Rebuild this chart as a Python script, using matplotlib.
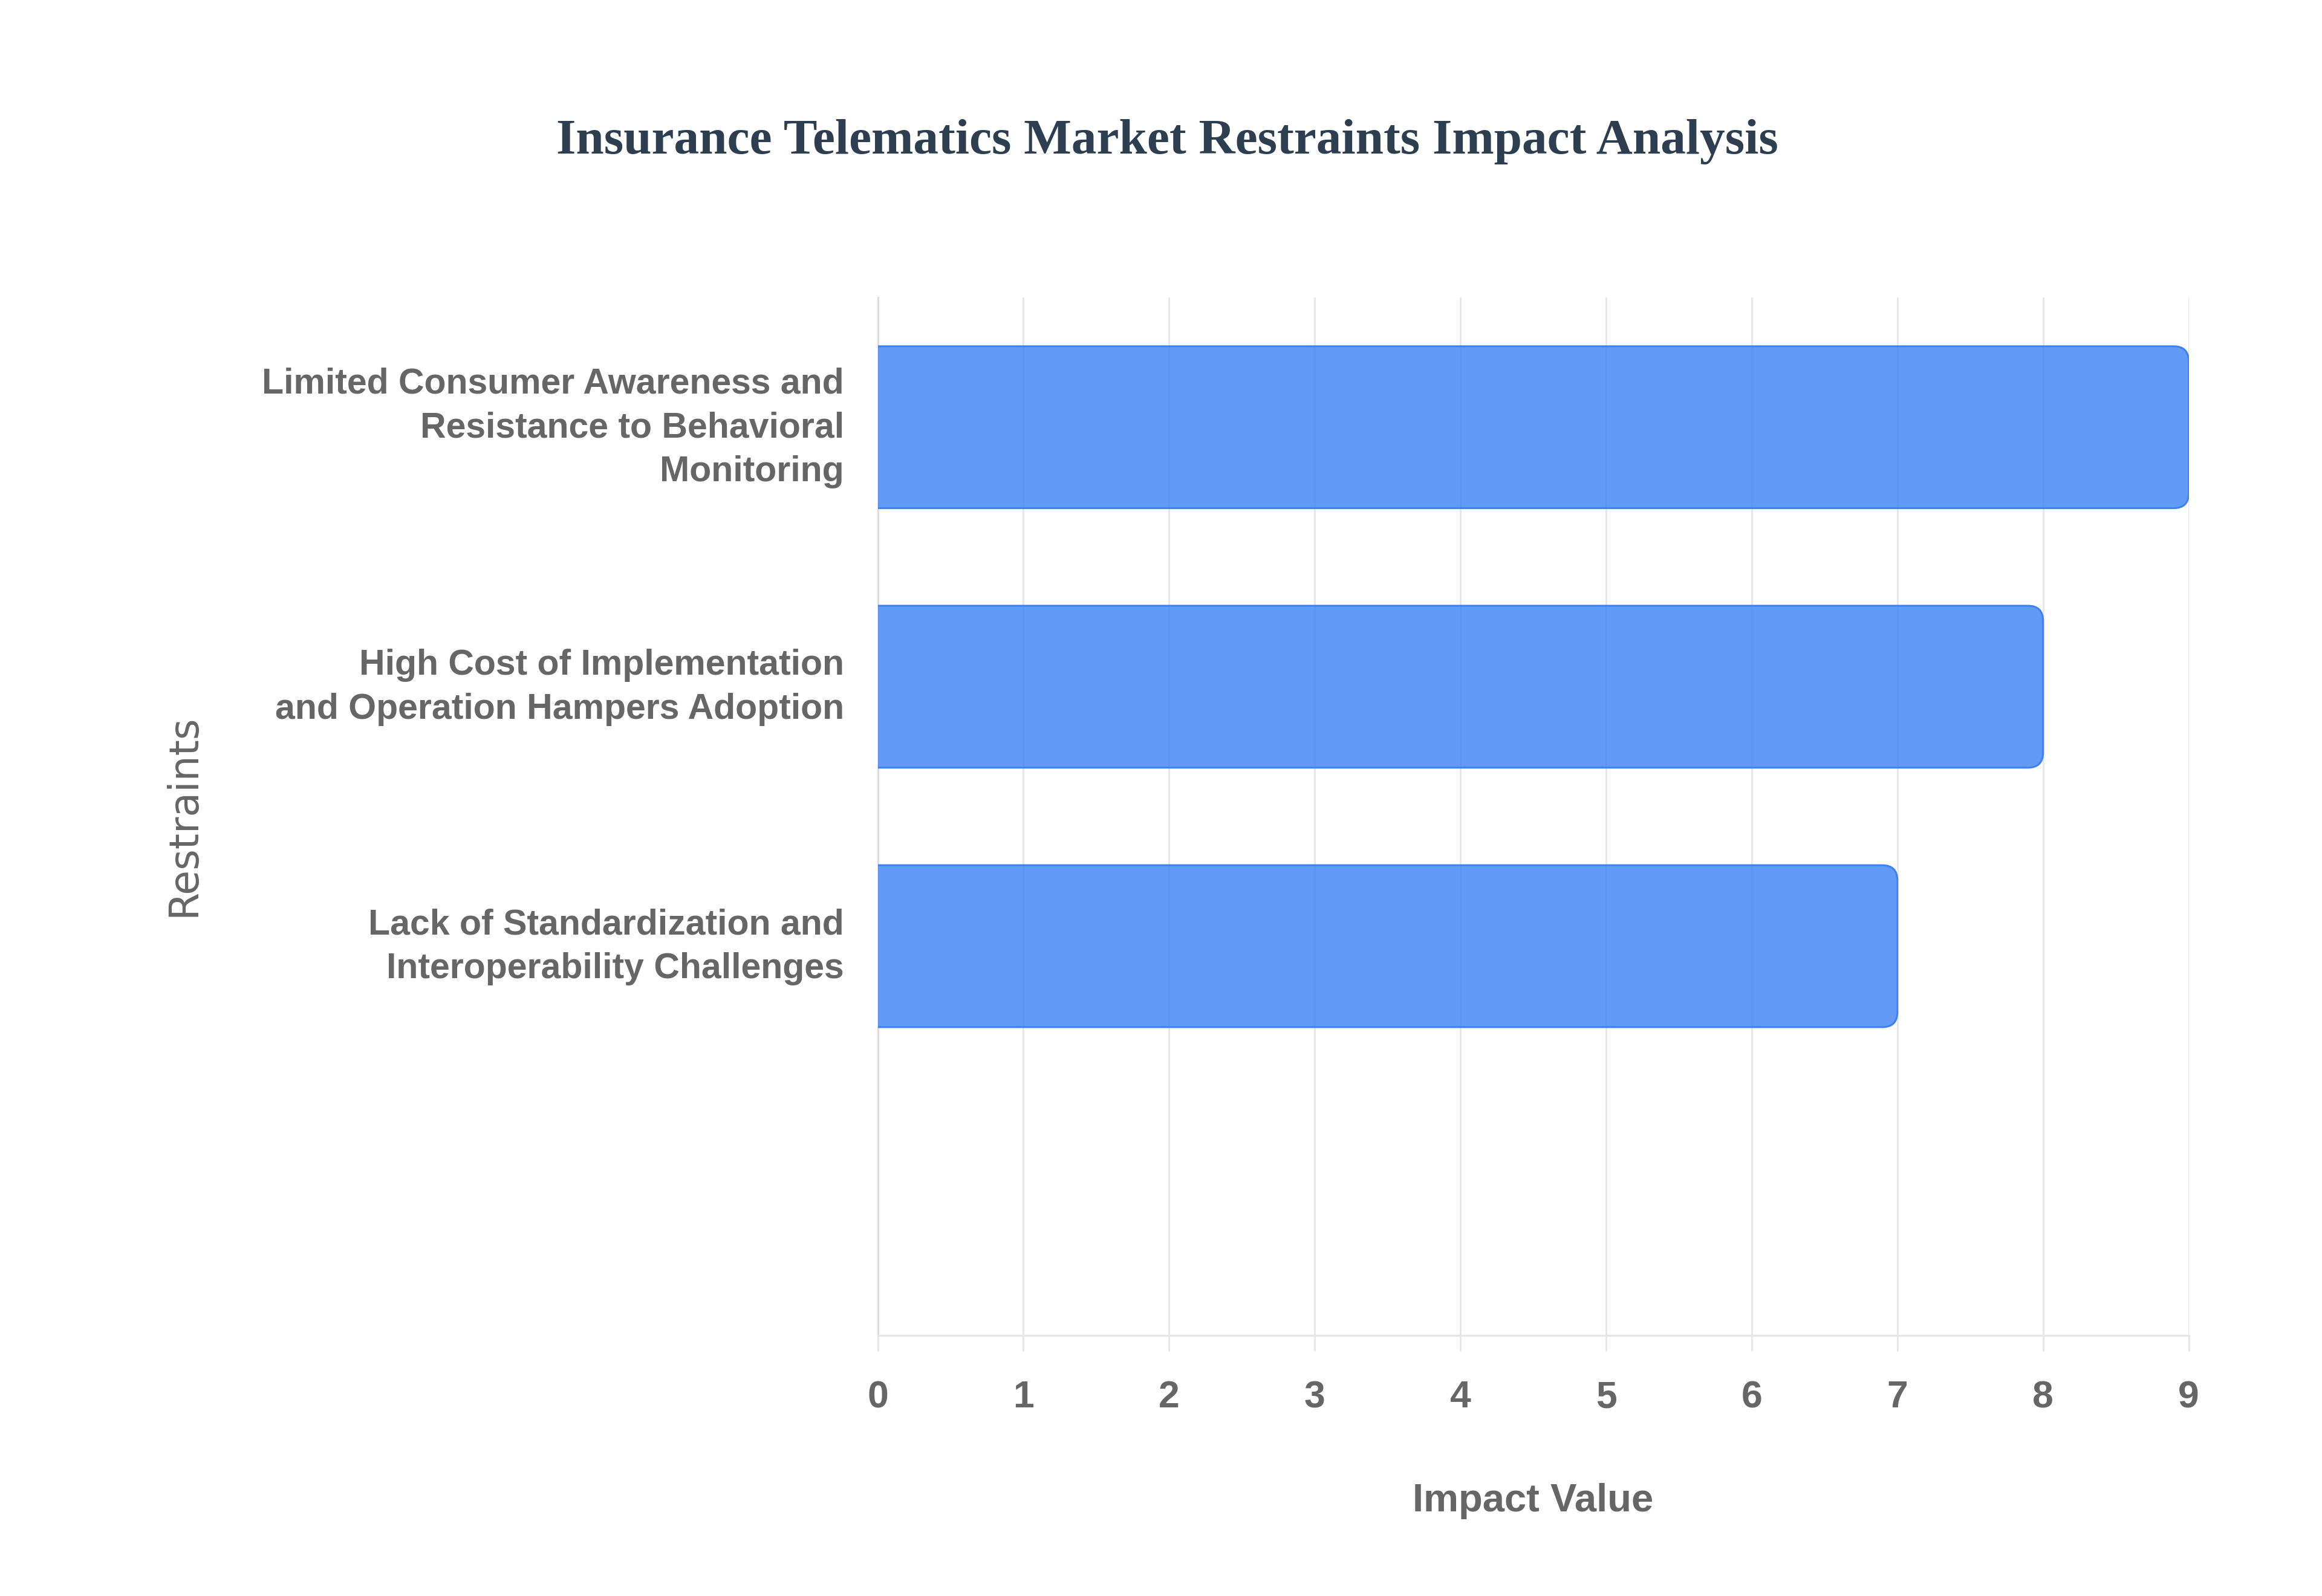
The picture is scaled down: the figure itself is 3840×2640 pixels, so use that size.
import matplotlib.pyplot as plt
from matplotlib.patches import FancyBboxPatch
from matplotlib.transforms import ScaledTranslation
import numpy as np

# --- data ---
restraints = [
    "Limited Consumer Awareness and\nResistance to Behavioral\nMonitoring",
    "High Cost of Implementation\nand Operation Hampers Adoption",
    "Lack of Standardization and\nInteroperability Challenges",
]
impact = [9, 8, 7]
x_ticks = [0, 1, 2, 3, 4, 5, 6, 7, 8, 9]

title = "Insurance Telematics Market Restraints Impact Analysis"
x_label = "Impact Value"
y_label = "Restraints"

text_gray = "#666666"
grid_gray = "#e6e6e6"

fig = plt.figure(figsize=(38.4, 26.4), dpi=100)
ax = fig.add_axes([0.378, 0.1633, 0.5646, 0.6503])

y = np.arange(len(restraints))
bars = ax.barh(y, impact, height=0.624, zorder=3)

ax.set_ylim(len(restraints) + 0.5, -0.5)
ax.set_xlim(0, 9)

# swap plain bars for ones with rounded right corners (left end clipped by axis)
px_x = 241.0   # pixels per x unit
px_y = 429.0   # pixels per y unit
radius_px = 25
for b in bars:
    bx, by, bw, bh = b.get_x(), b.get_y(), b.get_width(), b.get_height()
    b.set_visible(False)
    p = FancyBboxPatch((bx - 0.3, by), bw + 0.3, bh,
                       boxstyle="round,pad=0,rounding_size=%f" % (radius_px / px_x),
                       mutation_aspect=px_x / px_y,
                       facecolor=(59 / 255, 130 / 255, 246 / 255, 0.8),
                       edgecolor="#3b82f6", linewidth=2.2, zorder=3)
    ax.add_patch(p)

ax.set_xticks(x_ticks)
ax.set_yticks(y)
ax.set_yticklabels(restraints, fontsize=42.5, fontweight="bold", color=text_gray,
                   family="Liberation Sans", linespacing=1.42)
ax.set_xticklabels([str(t) for t in x_ticks], fontsize=45, fontweight="bold",
                   color=text_gray, family="Liberation Sans")
ax.tick_params(axis="y", length=0, pad=40)
ax.tick_params(axis="x", length=19, width=2, color=grid_gray, pad=34)

# nudge the wrapped category labels up a touch so they centre on the bars
shift = ScaledTranslation(0, 14 / 100, fig.dpi_scale_trans)
for lbl in ax.get_yticklabels():
    lbl.set_transform(lbl.get_transform() + shift)

ax.grid(axis="x", color=grid_gray, linewidth=2, zorder=0)
for s in ["top", "right"]:
    ax.spines[s].set_visible(False)
ax.spines["left"].set_color("#dcdcdc")
ax.spines["left"].set_linewidth(2)
ax.spines["bottom"].set_color(grid_gray)
ax.spines["bottom"].set_linewidth(2.5)

fig.text(0.5026, 0.911, title, ha="center", va="center", fontsize=60,
         fontweight="bold", color="#2c3e50", family="Liberation Serif")
fig.text(0.6603, 0.0595, x_label, ha="center", va="center", fontsize=47,
         fontweight="bold", color=text_gray, family="Liberation Sans")
fig.text(0.079, 0.489, y_label, ha="center", va="center", rotation=90,
         fontsize=48, color=text_gray, family="DejaVu Sans")

fig.savefig("out.png", dpi=100)
